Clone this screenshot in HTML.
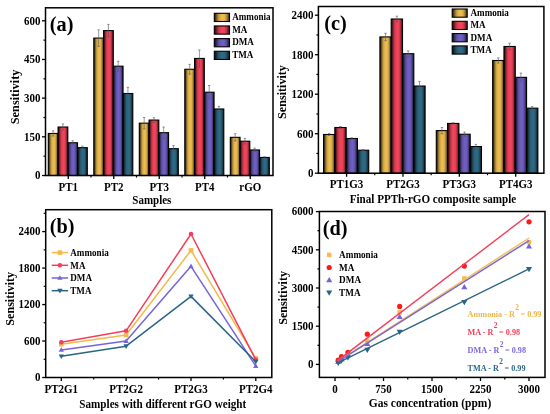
<!DOCTYPE html>
<html><head><meta charset="utf-8"><style>
html,body{margin:0;padding:0;background:#fff;}
svg{display:block;filter:blur(0.45px);font-family:"Liberation Serif", serif;font-weight:bold;}
</style></head><body>
<svg width="550" height="414" viewBox="0 0 550 414">
<defs><linearGradient id="g_amm" x1="0" y1="0" x2="1" y2="0"><stop offset="0.0" stop-color="#1D170A"/><stop offset="0.1" stop-color="#4C3D1A"/><stop offset="0.2" stop-color="#947632"/><stop offset="0.3" stop-color="#C69E42"/><stop offset="0.42" stop-color="#E2B44C"/><stop offset="0.55" stop-color="#EEBE50"/><stop offset="0.68" stop-color="#E2B44C"/><stop offset="0.78" stop-color="#C39C42"/><stop offset="0.88" stop-color="#83692C"/><stop offset="1.0" stop-color="#302610"/></linearGradient><linearGradient id="g_ma" x1="0" y1="0" x2="1" y2="0"><stop offset="0.0" stop-color="#1D080B"/><stop offset="0.1" stop-color="#4E161D"/><stop offset="0.2" stop-color="#972A39"/><stop offset="0.3" stop-color="#CB384C"/><stop offset="0.42" stop-color="#E84157"/><stop offset="0.55" stop-color="#F4445C"/><stop offset="0.68" stop-color="#E84157"/><stop offset="0.78" stop-color="#C8384B"/><stop offset="0.88" stop-color="#862533"/><stop offset="1.0" stop-color="#310E12"/></linearGradient><linearGradient id="g_dma" x1="0" y1="0" x2="1" y2="0"><stop offset="0.0" stop-color="#0D0C18"/><stop offset="0.1" stop-color="#241F3F"/><stop offset="0.2" stop-color="#453C7A"/><stop offset="0.3" stop-color="#5D50A3"/><stop offset="0.42" stop-color="#6A5BBA"/><stop offset="0.55" stop-color="#7060C4"/><stop offset="0.68" stop-color="#6A5BBA"/><stop offset="0.78" stop-color="#5C4FA1"/><stop offset="0.88" stop-color="#3E356C"/><stop offset="1.0" stop-color="#161327"/></linearGradient><linearGradient id="g_tma" x1="0" y1="0" x2="1" y2="0"><stop offset="0.0" stop-color="#060D10"/><stop offset="0.1" stop-color="#0F222B"/><stop offset="0.2" stop-color="#1D4252"/><stop offset="0.3" stop-color="#27586E"/><stop offset="0.42" stop-color="#2D657E"/><stop offset="0.55" stop-color="#2F6A85"/><stop offset="0.68" stop-color="#2D657E"/><stop offset="0.78" stop-color="#27576D"/><stop offset="0.88" stop-color="#1A3A49"/><stop offset="1.0" stop-color="#09151B"/></linearGradient></defs>
<rect width="550" height="414" fill="#fff"/>
<rect x="48.3" y="133.47" width="9.75" height="42.03" fill="url(#g_amm)" stroke="#000" stroke-width="1.1" />
<line x1="53.17" y1="136.05" x2="53.17" y2="130.89" stroke="#555" stroke-width="0.6" />
<line x1="51.97" y1="130.89" x2="54.38" y2="130.89" stroke="#555" stroke-width="0.6" />
<line x1="51.97" y1="136.05" x2="54.38" y2="136.05" stroke="#555" stroke-width="0.6" />
<rect x="58.05" y="127.03" width="9.75" height="48.47" fill="url(#g_ma)" stroke="#000" stroke-width="1.1" />
<line x1="62.92" y1="130.12" x2="62.92" y2="123.93" stroke="#555" stroke-width="0.6" />
<line x1="61.72" y1="123.93" x2="64.12" y2="123.93" stroke="#555" stroke-width="0.6" />
<line x1="61.72" y1="130.12" x2="64.12" y2="130.12" stroke="#555" stroke-width="0.6" />
<rect x="67.8" y="142.76" width="9.75" height="32.74" fill="url(#g_dma)" stroke="#000" stroke-width="1.1" />
<line x1="72.67" y1="144.82" x2="72.67" y2="140.69" stroke="#555" stroke-width="0.6" />
<line x1="71.47" y1="140.69" x2="73.88" y2="140.69" stroke="#555" stroke-width="0.6" />
<line x1="71.47" y1="144.82" x2="73.88" y2="144.82" stroke="#555" stroke-width="0.6" />
<rect x="77.55" y="147.65" width="9.75" height="27.85" fill="url(#g_tma)" stroke="#000" stroke-width="1.1" />
<line x1="82.42" y1="149.2" x2="82.42" y2="146.11" stroke="#555" stroke-width="0.6" />
<line x1="81.22" y1="146.11" x2="83.62" y2="146.11" stroke="#555" stroke-width="0.6" />
<line x1="81.22" y1="149.2" x2="83.62" y2="149.2" stroke="#555" stroke-width="0.6" />
<rect x="93.8" y="38.07" width="9.75" height="137.43" fill="url(#g_amm)" stroke="#000" stroke-width="1.1" />
<line x1="98.67" y1="46.33" x2="98.67" y2="29.82" stroke="#555" stroke-width="0.6" />
<line x1="97.47" y1="29.82" x2="99.88" y2="29.82" stroke="#555" stroke-width="0.6" />
<line x1="97.47" y1="46.33" x2="99.88" y2="46.33" stroke="#555" stroke-width="0.6" />
<rect x="103.55" y="30.6" width="9.75" height="144.9" fill="url(#g_ma)" stroke="#000" stroke-width="1.1" />
<line x1="108.42" y1="36.79" x2="108.42" y2="24.41" stroke="#555" stroke-width="0.6" />
<line x1="107.22" y1="24.41" x2="109.62" y2="24.41" stroke="#555" stroke-width="0.6" />
<line x1="107.22" y1="36.79" x2="109.62" y2="36.79" stroke="#555" stroke-width="0.6" />
<rect x="113.3" y="66.18" width="9.75" height="109.32" fill="url(#g_dma)" stroke="#000" stroke-width="1.1" />
<line x1="118.17" y1="71.08" x2="118.17" y2="61.28" stroke="#555" stroke-width="0.6" />
<line x1="116.97" y1="61.28" x2="119.38" y2="61.28" stroke="#555" stroke-width="0.6" />
<line x1="116.97" y1="71.08" x2="119.38" y2="71.08" stroke="#555" stroke-width="0.6" />
<rect x="123.05" y="93.51" width="9.75" height="81.99" fill="url(#g_tma)" stroke="#000" stroke-width="1.1" />
<line x1="127.92" y1="99.7" x2="127.92" y2="87.32" stroke="#555" stroke-width="0.6" />
<line x1="126.72" y1="87.32" x2="129.12" y2="87.32" stroke="#555" stroke-width="0.6" />
<line x1="126.72" y1="99.7" x2="129.12" y2="99.7" stroke="#555" stroke-width="0.6" />
<rect x="139.3" y="123.16" width="9.75" height="52.34" fill="url(#g_amm)" stroke="#000" stroke-width="1.1" />
<line x1="144.18" y1="128.83" x2="144.18" y2="117.49" stroke="#555" stroke-width="0.6" />
<line x1="142.98" y1="117.49" x2="145.38" y2="117.49" stroke="#555" stroke-width="0.6" />
<line x1="142.98" y1="128.83" x2="145.38" y2="128.83" stroke="#555" stroke-width="0.6" />
<rect x="149.05" y="120.07" width="9.75" height="55.43" fill="url(#g_ma)" stroke="#000" stroke-width="1.1" />
<line x1="153.93" y1="122.39" x2="153.93" y2="117.75" stroke="#555" stroke-width="0.6" />
<line x1="152.73" y1="117.75" x2="155.12" y2="117.75" stroke="#555" stroke-width="0.6" />
<line x1="152.73" y1="122.39" x2="155.12" y2="122.39" stroke="#555" stroke-width="0.6" />
<rect x="158.8" y="132.7" width="9.75" height="42.8" fill="url(#g_dma)" stroke="#000" stroke-width="1.1" />
<line x1="163.68" y1="138.37" x2="163.68" y2="127.03" stroke="#555" stroke-width="0.6" />
<line x1="162.48" y1="127.03" x2="164.88" y2="127.03" stroke="#555" stroke-width="0.6" />
<line x1="162.48" y1="138.37" x2="164.88" y2="138.37" stroke="#555" stroke-width="0.6" />
<rect x="168.55" y="148.69" width="9.75" height="26.81" fill="url(#g_tma)" stroke="#000" stroke-width="1.1" />
<line x1="173.43" y1="151.78" x2="173.43" y2="145.59" stroke="#555" stroke-width="0.6" />
<line x1="172.23" y1="145.59" x2="174.62" y2="145.59" stroke="#555" stroke-width="0.6" />
<line x1="172.23" y1="151.78" x2="174.62" y2="151.78" stroke="#555" stroke-width="0.6" />
<rect x="184.8" y="69.27" width="9.75" height="106.23" fill="url(#g_amm)" stroke="#000" stroke-width="1.1" />
<line x1="189.68" y1="74.17" x2="189.68" y2="64.37" stroke="#555" stroke-width="0.6" />
<line x1="188.48" y1="64.37" x2="190.88" y2="64.37" stroke="#555" stroke-width="0.6" />
<line x1="188.48" y1="74.17" x2="190.88" y2="74.17" stroke="#555" stroke-width="0.6" />
<rect x="194.55" y="58.44" width="9.75" height="117.06" fill="url(#g_ma)" stroke="#000" stroke-width="1.1" />
<line x1="199.43" y1="66.95" x2="199.43" y2="49.94" stroke="#555" stroke-width="0.6" />
<line x1="198.23" y1="49.94" x2="200.62" y2="49.94" stroke="#555" stroke-width="0.6" />
<line x1="198.23" y1="66.95" x2="200.62" y2="66.95" stroke="#555" stroke-width="0.6" />
<rect x="204.3" y="92.22" width="9.75" height="83.28" fill="url(#g_dma)" stroke="#000" stroke-width="1.1" />
<line x1="209.18" y1="98.92" x2="209.18" y2="85.52" stroke="#555" stroke-width="0.6" />
<line x1="207.98" y1="85.52" x2="210.38" y2="85.52" stroke="#555" stroke-width="0.6" />
<line x1="207.98" y1="98.92" x2="210.38" y2="98.92" stroke="#555" stroke-width="0.6" />
<rect x="214.05" y="108.98" width="9.75" height="66.52" fill="url(#g_tma)" stroke="#000" stroke-width="1.1" />
<line x1="218.93" y1="111.56" x2="218.93" y2="106.4" stroke="#555" stroke-width="0.6" />
<line x1="217.73" y1="106.4" x2="220.12" y2="106.4" stroke="#555" stroke-width="0.6" />
<line x1="217.73" y1="111.56" x2="220.12" y2="111.56" stroke="#555" stroke-width="0.6" />
<rect x="230.3" y="137.34" width="9.75" height="38.16" fill="url(#g_amm)" stroke="#000" stroke-width="1.1" />
<line x1="235.18" y1="140.95" x2="235.18" y2="133.73" stroke="#555" stroke-width="0.6" />
<line x1="233.98" y1="133.73" x2="236.38" y2="133.73" stroke="#555" stroke-width="0.6" />
<line x1="233.98" y1="140.95" x2="236.38" y2="140.95" stroke="#555" stroke-width="0.6" />
<rect x="240.05" y="141.21" width="9.75" height="34.29" fill="url(#g_ma)" stroke="#000" stroke-width="1.1" />
<line x1="244.93" y1="144.04" x2="244.93" y2="138.37" stroke="#555" stroke-width="0.6" />
<line x1="243.73" y1="138.37" x2="246.12" y2="138.37" stroke="#555" stroke-width="0.6" />
<line x1="243.73" y1="144.04" x2="246.12" y2="144.04" stroke="#555" stroke-width="0.6" />
<rect x="249.8" y="149.97" width="9.75" height="25.53" fill="url(#g_dma)" stroke="#000" stroke-width="1.1" />
<line x1="254.68" y1="151.78" x2="254.68" y2="148.17" stroke="#555" stroke-width="0.6" />
<line x1="253.48" y1="148.17" x2="255.88" y2="148.17" stroke="#555" stroke-width="0.6" />
<line x1="253.48" y1="151.78" x2="255.88" y2="151.78" stroke="#555" stroke-width="0.6" />
<rect x="259.55" y="157.45" width="9.75" height="18.05" fill="url(#g_tma)" stroke="#000" stroke-width="1.1" />
<line x1="264.43" y1="158.23" x2="264.43" y2="156.68" stroke="#555" stroke-width="0.6" />
<line x1="263.23" y1="156.68" x2="265.62" y2="156.68" stroke="#555" stroke-width="0.6" />
<line x1="263.23" y1="158.23" x2="265.62" y2="158.23" stroke="#555" stroke-width="0.6" />
<rect x="45.5" y="7.8" width="227.5" height="167.7" fill="none" stroke="#000" stroke-width="1.5" />
<line x1="42" y1="175.5" x2="45.5" y2="175.5" stroke="#000" stroke-width="1.3" />
<text transform="translate(40.5,179.3) scale(1,1.12)" font-size="11" text-anchor="end" fill="#000">0</text>
<line x1="42" y1="136.82" x2="45.5" y2="136.82" stroke="#000" stroke-width="1.3" />
<text transform="translate(40.5,140.62) scale(1,1.12)" font-size="11" text-anchor="end" fill="#000">150</text>
<line x1="42" y1="98.15" x2="45.5" y2="98.15" stroke="#000" stroke-width="1.3" />
<text transform="translate(40.5,101.95) scale(1,1.12)" font-size="11" text-anchor="end" fill="#000">300</text>
<line x1="42" y1="59.48" x2="45.5" y2="59.48" stroke="#000" stroke-width="1.3" />
<text transform="translate(40.5,63.28) scale(1,1.12)" font-size="11" text-anchor="end" fill="#000">450</text>
<line x1="42" y1="20.8" x2="45.5" y2="20.8" stroke="#000" stroke-width="1.3" />
<text transform="translate(40.5,24.6) scale(1,1.12)" font-size="11" text-anchor="end" fill="#000">600</text>
<line x1="43.5" y1="156.16" x2="45.5" y2="156.16" stroke="#000" stroke-width="1.2" />
<line x1="43.5" y1="117.49" x2="45.5" y2="117.49" stroke="#000" stroke-width="1.2" />
<line x1="43.5" y1="78.81" x2="45.5" y2="78.81" stroke="#000" stroke-width="1.2" />
<line x1="43.5" y1="40.14" x2="45.5" y2="40.14" stroke="#000" stroke-width="1.2" />
<line x1="68.25" y1="175.5" x2="68.25" y2="179.1" stroke="#000" stroke-width="1.3" />
<text transform="translate(68.25,191.2) scale(1,1.12)" font-size="11" text-anchor="middle" fill="#000">PT1</text>
<line x1="113.75" y1="175.5" x2="113.75" y2="179.1" stroke="#000" stroke-width="1.3" />
<text transform="translate(113.75,191.2) scale(1,1.12)" font-size="11" text-anchor="middle" fill="#000">PT2</text>
<line x1="159.25" y1="175.5" x2="159.25" y2="179.1" stroke="#000" stroke-width="1.3" />
<text transform="translate(159.25,191.2) scale(1,1.12)" font-size="11" text-anchor="middle" fill="#000">PT3</text>
<line x1="204.75" y1="175.5" x2="204.75" y2="179.1" stroke="#000" stroke-width="1.3" />
<text transform="translate(204.75,191.2) scale(1,1.12)" font-size="11" text-anchor="middle" fill="#000">PT4</text>
<line x1="250.25" y1="175.5" x2="250.25" y2="179.1" stroke="#000" stroke-width="1.3" />
<text transform="translate(250.25,191.2) scale(1,1.12)" font-size="11" text-anchor="middle" fill="#000">rGO</text>
<line x1="91" y1="175.5" x2="91" y2="177.5" stroke="#000" stroke-width="1.2" />
<line x1="136.5" y1="175.5" x2="136.5" y2="177.5" stroke="#000" stroke-width="1.2" />
<line x1="182" y1="175.5" x2="182" y2="177.5" stroke="#000" stroke-width="1.2" />
<line x1="227.5" y1="175.5" x2="227.5" y2="177.5" stroke="#000" stroke-width="1.2" />
<text transform="translate(49.8,30.7) scale(1,1.0)" font-size="20.3" text-anchor="start" fill="#000">(a)</text>
<rect x="214.3" y="13.3" width="15.2" height="8.2" fill="url(#g_amm)" stroke="#000" stroke-width="1.1" />
<text transform="translate(232.2,19.9) scale(1,1.12)" font-size="9.1" text-anchor="start" fill="#000">Ammonia</text>
<rect x="214.3" y="25.95" width="15.2" height="8.2" fill="url(#g_ma)" stroke="#000" stroke-width="1.1" />
<text transform="translate(232.2,32.55) scale(1,1.12)" font-size="9.1" text-anchor="start" fill="#000">MA</text>
<rect x="214.3" y="38.6" width="15.2" height="8.2" fill="url(#g_dma)" stroke="#000" stroke-width="1.1" />
<text transform="translate(232.2,45.2) scale(1,1.12)" font-size="9.1" text-anchor="start" fill="#000">DMA</text>
<rect x="214.3" y="51.25" width="15.2" height="8.2" fill="url(#g_tma)" stroke="#000" stroke-width="1.1" />
<text transform="translate(232.2,57.85) scale(1,1.12)" font-size="9.1" text-anchor="start" fill="#000">TMA</text>
<text transform="translate(151.8,203.6) scale(1,1.12)" font-size="11" text-anchor="middle" fill="#000">Samples</text>
<text x="0" y="0" font-size="12.3" text-anchor="middle" fill="#000" transform="translate(19.0,96.9) rotate(-90)">Sensitivity</text>
<rect x="323.54" y="134.49" width="11.3" height="38.71" fill="url(#g_amm)" stroke="#000" stroke-width="1.1" />
<line x1="329.19" y1="135.48" x2="329.19" y2="133.5" stroke="#555" stroke-width="0.6" />
<line x1="327.99" y1="133.5" x2="330.39" y2="133.5" stroke="#555" stroke-width="0.6" />
<line x1="327.99" y1="135.48" x2="330.39" y2="135.48" stroke="#555" stroke-width="0.6" />
<rect x="334.84" y="127.51" width="11.3" height="45.69" fill="url(#g_ma)" stroke="#000" stroke-width="1.1" />
<line x1="340.49" y1="128.5" x2="340.49" y2="126.52" stroke="#555" stroke-width="0.6" />
<line x1="339.29" y1="126.52" x2="341.69" y2="126.52" stroke="#555" stroke-width="0.6" />
<line x1="339.29" y1="128.5" x2="341.69" y2="128.5" stroke="#555" stroke-width="0.6" />
<rect x="346.14" y="138.51" width="11.3" height="34.69" fill="url(#g_dma)" stroke="#000" stroke-width="1.1" />
<line x1="351.79" y1="139.3" x2="351.79" y2="137.72" stroke="#555" stroke-width="0.6" />
<line x1="350.59" y1="137.72" x2="352.99" y2="137.72" stroke="#555" stroke-width="0.6" />
<line x1="350.59" y1="139.3" x2="352.99" y2="139.3" stroke="#555" stroke-width="0.6" />
<rect x="357.44" y="150.22" width="11.3" height="22.98" fill="url(#g_tma)" stroke="#000" stroke-width="1.1" />
<line x1="363.09" y1="150.88" x2="363.09" y2="149.57" stroke="#555" stroke-width="0.6" />
<line x1="361.89" y1="149.57" x2="364.29" y2="149.57" stroke="#555" stroke-width="0.6" />
<line x1="361.89" y1="150.88" x2="364.29" y2="150.88" stroke="#555" stroke-width="0.6" />
<rect x="379.91" y="36.93" width="11.3" height="136.27" fill="url(#g_amm)" stroke="#000" stroke-width="1.1" />
<line x1="385.56" y1="40.61" x2="385.56" y2="33.24" stroke="#555" stroke-width="0.6" />
<line x1="384.36" y1="33.24" x2="386.76" y2="33.24" stroke="#555" stroke-width="0.6" />
<line x1="384.36" y1="40.61" x2="386.76" y2="40.61" stroke="#555" stroke-width="0.6" />
<rect x="391.21" y="19.02" width="11.3" height="154.18" fill="url(#g_ma)" stroke="#000" stroke-width="1.1" />
<line x1="396.86" y1="21.85" x2="396.86" y2="16.19" stroke="#555" stroke-width="0.6" />
<line x1="395.66" y1="16.19" x2="398.06" y2="16.19" stroke="#555" stroke-width="0.6" />
<line x1="395.66" y1="21.85" x2="398.06" y2="21.85" stroke="#555" stroke-width="0.6" />
<rect x="402.51" y="53.71" width="11.3" height="119.49" fill="url(#g_dma)" stroke="#000" stroke-width="1.1" />
<line x1="408.16" y1="56.54" x2="408.16" y2="50.88" stroke="#555" stroke-width="0.6" />
<line x1="406.96" y1="50.88" x2="409.36" y2="50.88" stroke="#555" stroke-width="0.6" />
<line x1="406.96" y1="56.54" x2="409.36" y2="56.54" stroke="#555" stroke-width="0.6" />
<rect x="413.81" y="86.04" width="11.3" height="87.16" fill="url(#g_tma)" stroke="#000" stroke-width="1.1" />
<line x1="419.46" y1="90.71" x2="419.46" y2="81.36" stroke="#555" stroke-width="0.6" />
<line x1="418.26" y1="81.36" x2="420.66" y2="81.36" stroke="#555" stroke-width="0.6" />
<line x1="418.26" y1="90.71" x2="420.66" y2="90.71" stroke="#555" stroke-width="0.6" />
<rect x="436.29" y="130.61" width="11.3" height="42.59" fill="url(#g_amm)" stroke="#000" stroke-width="1.1" />
<line x1="441.94" y1="133.7" x2="441.94" y2="127.51" stroke="#555" stroke-width="0.6" />
<line x1="440.74" y1="127.51" x2="443.14" y2="127.51" stroke="#555" stroke-width="0.6" />
<line x1="440.74" y1="133.7" x2="443.14" y2="133.7" stroke="#555" stroke-width="0.6" />
<rect x="447.59" y="123.43" width="11.3" height="49.77" fill="url(#g_ma)" stroke="#000" stroke-width="1.1" />
<line x1="453.24" y1="124.15" x2="453.24" y2="122.71" stroke="#555" stroke-width="0.6" />
<line x1="452.04" y1="122.71" x2="454.44" y2="122.71" stroke="#555" stroke-width="0.6" />
<line x1="452.04" y1="124.15" x2="454.44" y2="124.15" stroke="#555" stroke-width="0.6" />
<rect x="458.89" y="134.23" width="11.3" height="38.97" fill="url(#g_dma)" stroke="#000" stroke-width="1.1" />
<line x1="464.54" y1="136.4" x2="464.54" y2="132.05" stroke="#555" stroke-width="0.6" />
<line x1="463.34" y1="132.05" x2="465.74" y2="132.05" stroke="#555" stroke-width="0.6" />
<line x1="463.34" y1="136.4" x2="465.74" y2="136.4" stroke="#555" stroke-width="0.6" />
<rect x="470.19" y="146.54" width="11.3" height="26.66" fill="url(#g_tma)" stroke="#000" stroke-width="1.1" />
<line x1="475.84" y1="148.71" x2="475.84" y2="144.36" stroke="#555" stroke-width="0.6" />
<line x1="474.64" y1="144.36" x2="477.04" y2="144.36" stroke="#555" stroke-width="0.6" />
<line x1="474.64" y1="148.71" x2="477.04" y2="148.71" stroke="#555" stroke-width="0.6" />
<rect x="492.66" y="60.49" width="11.3" height="112.71" fill="url(#g_amm)" stroke="#000" stroke-width="1.1" />
<line x1="498.31" y1="63.13" x2="498.31" y2="57.86" stroke="#555" stroke-width="0.6" />
<line x1="497.11" y1="57.86" x2="499.51" y2="57.86" stroke="#555" stroke-width="0.6" />
<line x1="497.11" y1="63.13" x2="499.51" y2="63.13" stroke="#555" stroke-width="0.6" />
<rect x="503.96" y="46.47" width="11.3" height="126.73" fill="url(#g_ma)" stroke="#000" stroke-width="1.1" />
<line x1="509.61" y1="49.76" x2="509.61" y2="43.18" stroke="#555" stroke-width="0.6" />
<line x1="508.41" y1="43.18" x2="510.81" y2="43.18" stroke="#555" stroke-width="0.6" />
<line x1="508.41" y1="49.76" x2="510.81" y2="49.76" stroke="#555" stroke-width="0.6" />
<rect x="515.26" y="77.35" width="11.3" height="95.85" fill="url(#g_dma)" stroke="#000" stroke-width="1.1" />
<line x1="520.91" y1="81.63" x2="520.91" y2="73.07" stroke="#555" stroke-width="0.6" />
<line x1="519.71" y1="73.07" x2="522.11" y2="73.07" stroke="#555" stroke-width="0.6" />
<line x1="519.71" y1="81.63" x2="522.11" y2="81.63" stroke="#555" stroke-width="0.6" />
<rect x="526.56" y="108.16" width="11.3" height="65.04" fill="url(#g_tma)" stroke="#000" stroke-width="1.1" />
<line x1="532.21" y1="109.74" x2="532.21" y2="106.58" stroke="#555" stroke-width="0.6" />
<line x1="531.01" y1="106.58" x2="533.41" y2="106.58" stroke="#555" stroke-width="0.6" />
<line x1="531.01" y1="109.74" x2="533.41" y2="109.74" stroke="#555" stroke-width="0.6" />
<rect x="318.4" y="6.5" width="225.5" height="166.7" fill="none" stroke="#000" stroke-width="1.5" />
<line x1="314.9" y1="173.2" x2="318.4" y2="173.2" stroke="#000" stroke-width="1.3" />
<text transform="translate(313.4,177) scale(1,1.12)" font-size="11" text-anchor="end" fill="#000">0</text>
<line x1="314.9" y1="133.7" x2="318.4" y2="133.7" stroke="#000" stroke-width="1.3" />
<text transform="translate(313.4,137.5) scale(1,1.12)" font-size="11" text-anchor="end" fill="#000">600</text>
<line x1="314.9" y1="94.2" x2="318.4" y2="94.2" stroke="#000" stroke-width="1.3" />
<text transform="translate(313.4,98) scale(1,1.12)" font-size="11" text-anchor="end" fill="#000">1200</text>
<line x1="314.9" y1="54.7" x2="318.4" y2="54.7" stroke="#000" stroke-width="1.3" />
<text transform="translate(313.4,58.5) scale(1,1.12)" font-size="11" text-anchor="end" fill="#000">1800</text>
<line x1="314.9" y1="15.2" x2="318.4" y2="15.2" stroke="#000" stroke-width="1.3" />
<text transform="translate(313.4,19) scale(1,1.12)" font-size="11" text-anchor="end" fill="#000">2400</text>
<line x1="316.4" y1="153.45" x2="318.4" y2="153.45" stroke="#000" stroke-width="1.2" />
<line x1="316.4" y1="113.95" x2="318.4" y2="113.95" stroke="#000" stroke-width="1.2" />
<line x1="316.4" y1="74.45" x2="318.4" y2="74.45" stroke="#000" stroke-width="1.2" />
<line x1="316.4" y1="34.95" x2="318.4" y2="34.95" stroke="#000" stroke-width="1.2" />
<line x1="346.59" y1="173.2" x2="346.59" y2="176.8" stroke="#000" stroke-width="1.3" />
<text transform="translate(346.59,188.4) scale(1,1.12)" font-size="11" text-anchor="middle" fill="#000">PT1G3</text>
<line x1="402.96" y1="173.2" x2="402.96" y2="176.8" stroke="#000" stroke-width="1.3" />
<text transform="translate(402.96,188.4) scale(1,1.12)" font-size="11" text-anchor="middle" fill="#000">PT2G3</text>
<line x1="459.34" y1="173.2" x2="459.34" y2="176.8" stroke="#000" stroke-width="1.3" />
<text transform="translate(459.34,188.4) scale(1,1.12)" font-size="11" text-anchor="middle" fill="#000">PT3G3</text>
<line x1="515.71" y1="173.2" x2="515.71" y2="176.8" stroke="#000" stroke-width="1.3" />
<text transform="translate(515.71,188.4) scale(1,1.12)" font-size="11" text-anchor="middle" fill="#000">PT4G3</text>
<line x1="374.77" y1="173.2" x2="374.77" y2="175.2" stroke="#000" stroke-width="1.2" />
<line x1="431.15" y1="173.2" x2="431.15" y2="175.2" stroke="#000" stroke-width="1.2" />
<line x1="487.52" y1="173.2" x2="487.52" y2="175.2" stroke="#000" stroke-width="1.2" />
<text transform="translate(324.2,29.6) scale(1,1.0)" font-size="20.3" text-anchor="start" fill="#000">(c)</text>
<rect x="452.2" y="9" width="15" height="8.2" fill="url(#g_amm)" stroke="#000" stroke-width="1.1" />
<text transform="translate(470.5,15.9) scale(1,1.06)" font-size="9.1" text-anchor="start" fill="#000">Ammonia</text>
<rect x="452.2" y="21.3" width="15" height="8.2" fill="url(#g_ma)" stroke="#000" stroke-width="1.1" />
<text transform="translate(470.5,28.2) scale(1,1.06)" font-size="9.1" text-anchor="start" fill="#000">MA</text>
<rect x="452.2" y="33.6" width="15" height="8.2" fill="url(#g_dma)" stroke="#000" stroke-width="1.1" />
<text transform="translate(470.5,40.5) scale(1,1.06)" font-size="9.1" text-anchor="start" fill="#000">DMA</text>
<rect x="452.2" y="45.9" width="15" height="8.2" fill="url(#g_tma)" stroke="#000" stroke-width="1.1" />
<text transform="translate(470.5,52.8) scale(1,1.06)" font-size="9.1" text-anchor="start" fill="#000">TMA</text>
<text transform="translate(433,203.2) scale(1,1.12)" font-size="11.1" text-anchor="middle" fill="#000">Final PPTh-rGO composite sample</text>
<text x="0" y="0" font-size="12.1" text-anchor="middle" fill="#000" transform="translate(286.4,92) rotate(-90)">Sensitivity</text>
<polyline points="61.3,344.19 126.1,334.95 191,250.45 255.8,358.41" fill="none" stroke="#F4B94A" stroke-width="1.5" stroke-linejoin="round"/>
<rect x="59" y="341.89" width="4.6" height="4.6" fill="#F4B94A"/>
<rect x="123.8" y="332.65" width="4.6" height="4.6" fill="#F4B94A"/>
<rect x="188.7" y="248.15" width="4.6" height="4.6" fill="#F4B94A"/>
<rect x="253.5" y="356.11" width="4.6" height="4.6" fill="#F4B94A"/>
<polyline points="61.3,342.18 126.1,330.81 191,234.03 255.8,359.81" fill="none" stroke="#F43E5A" stroke-width="1.5" stroke-linejoin="round"/>
<circle cx="61.3" cy="342.18" r="2.3" fill="#F43E5A"/>
<circle cx="126.1" cy="330.81" r="2.3" fill="#F43E5A"/>
<circle cx="191" cy="234.03" r="2.3" fill="#F43E5A"/>
<circle cx="255.8" cy="359.81" r="2.3" fill="#F43E5A"/>
<polyline points="61.3,350.02 126.1,341.09 191,266.31 255.8,366.07" fill="none" stroke="#7565DA" stroke-width="1.5" stroke-linejoin="round"/>
<polygon points="61.3,347.31 58.63,351.86 63.97,351.86" fill="#7565DA"/>
<polygon points="126.1,338.38 123.43,342.92 128.77,342.92" fill="#7565DA"/>
<polygon points="191,263.6 188.33,268.15 193.67,268.15" fill="#7565DA"/>
<polygon points="255.8,363.36 253.13,367.91 258.47,367.91" fill="#7565DA"/>
<polyline points="61.3,356.22 126.1,346.19 191,296.4 255.8,361.69" fill="none" stroke="#2A6585" stroke-width="1.5" stroke-linejoin="round"/>
<polygon points="61.3,358.93 58.63,354.39 63.97,354.39" fill="#2A6585"/>
<polygon points="126.1,348.9 123.43,344.36 128.77,344.36" fill="#2A6585"/>
<polygon points="191,299.11 188.33,294.57 193.67,294.57" fill="#2A6585"/>
<polygon points="255.8,364.4 253.13,359.86 258.47,359.86" fill="#2A6585"/>
<rect x="45.7" y="209.7" width="226.1" height="167.8" fill="none" stroke="#000" stroke-width="1.5" />
<line x1="42.2" y1="377.5" x2="45.7" y2="377.5" stroke="#000" stroke-width="1.3" />
<text transform="translate(40.5,381.3) scale(1,1.12)" font-size="11" text-anchor="end" fill="#000">0</text>
<line x1="42.2" y1="341.02" x2="45.7" y2="341.02" stroke="#000" stroke-width="1.3" />
<text transform="translate(40.5,344.82) scale(1,1.12)" font-size="11" text-anchor="end" fill="#000">600</text>
<line x1="42.2" y1="304.55" x2="45.7" y2="304.55" stroke="#000" stroke-width="1.3" />
<text transform="translate(40.5,308.35) scale(1,1.12)" font-size="11" text-anchor="end" fill="#000">1200</text>
<line x1="42.2" y1="268.07" x2="45.7" y2="268.07" stroke="#000" stroke-width="1.3" />
<text transform="translate(40.5,271.88) scale(1,1.12)" font-size="11" text-anchor="end" fill="#000">1800</text>
<line x1="42.2" y1="231.6" x2="45.7" y2="231.6" stroke="#000" stroke-width="1.3" />
<text transform="translate(40.5,235.4) scale(1,1.12)" font-size="11" text-anchor="end" fill="#000">2400</text>
<line x1="43.7" y1="359.26" x2="45.7" y2="359.26" stroke="#000" stroke-width="1.2" />
<line x1="43.7" y1="322.79" x2="45.7" y2="322.79" stroke="#000" stroke-width="1.2" />
<line x1="43.7" y1="286.31" x2="45.7" y2="286.31" stroke="#000" stroke-width="1.2" />
<line x1="43.7" y1="249.84" x2="45.7" y2="249.84" stroke="#000" stroke-width="1.2" />
<line x1="43.7" y1="213.36" x2="45.7" y2="213.36" stroke="#000" stroke-width="1.2" />
<line x1="61.3" y1="377.5" x2="61.3" y2="381.1" stroke="#000" stroke-width="1.3" />
<text transform="translate(61.3,392.8) scale(1,1.12)" font-size="11" text-anchor="middle" fill="#000">PT2G1</text>
<line x1="126.1" y1="377.5" x2="126.1" y2="381.1" stroke="#000" stroke-width="1.3" />
<text transform="translate(126.1,392.8) scale(1,1.12)" font-size="11" text-anchor="middle" fill="#000">PT2G2</text>
<line x1="191" y1="377.5" x2="191" y2="381.1" stroke="#000" stroke-width="1.3" />
<text transform="translate(191,392.8) scale(1,1.12)" font-size="11" text-anchor="middle" fill="#000">PT2G3</text>
<line x1="255.8" y1="377.5" x2="255.8" y2="381.1" stroke="#000" stroke-width="1.3" />
<text transform="translate(255.8,392.8) scale(1,1.12)" font-size="11" text-anchor="middle" fill="#000">PT2G4</text>
<line x1="93.7" y1="377.5" x2="93.7" y2="379.5" stroke="#000" stroke-width="1.2" />
<line x1="158.55" y1="377.5" x2="158.55" y2="379.5" stroke="#000" stroke-width="1.2" />
<line x1="223.4" y1="377.5" x2="223.4" y2="379.5" stroke="#000" stroke-width="1.2" />
<text transform="translate(49.8,233.3) scale(1,1.0)" font-size="20.3" text-anchor="start" fill="#000">(b)</text>
<line x1="51.7" y1="252.6" x2="68.1" y2="252.6" stroke="#F4B94A" stroke-width="1.5" />
<rect x="57.6" y="250.3" width="4.6" height="4.6" fill="#F4B94A"/>
<text transform="translate(70.3,255.8) scale(1,1.12)" font-size="9.1" text-anchor="start" fill="#000">Ammonia</text>
<line x1="51.7" y1="265.3" x2="68.1" y2="265.3" stroke="#F43E5A" stroke-width="1.5" />
<circle cx="59.9" cy="265.3" r="2.3" fill="#F43E5A"/>
<text transform="translate(70.3,268.5) scale(1,1.12)" font-size="9.1" text-anchor="start" fill="#000">MA</text>
<line x1="51.7" y1="278" x2="68.1" y2="278" stroke="#7565DA" stroke-width="1.5" />
<polygon points="59.9,275.29 57.23,279.84 62.57,279.84" fill="#7565DA"/>
<text transform="translate(70.3,281.2) scale(1,1.12)" font-size="9.1" text-anchor="start" fill="#000">DMA</text>
<line x1="51.7" y1="290.7" x2="68.1" y2="290.7" stroke="#2A6585" stroke-width="1.5" />
<polygon points="59.9,293.41 57.23,288.86 62.57,288.86" fill="#2A6585"/>
<text transform="translate(70.3,293.9) scale(1,1.12)" font-size="9.1" text-anchor="start" fill="#000">TMA</text>
<text transform="translate(162.75,408) scale(1,1.12)" font-size="11.15" text-anchor="middle" fill="#000">Samples with different rGO weight</text>
<text x="0" y="0" font-size="12.1" text-anchor="middle" fill="#000" transform="translate(14.4,298.8) rotate(-90)">Sensitivity</text>
<rect x="335.98" y="359.09" width="4.5" height="4.5" fill="#F6BC52"/>
<rect x="339.22" y="356.29" width="4.5" height="4.5" fill="#F6BC52"/>
<rect x="345.68" y="351.96" width="4.5" height="4.5" fill="#F6BC52"/>
<rect x="365.08" y="338.54" width="4.5" height="4.5" fill="#F6BC52"/>
<rect x="397.42" y="310.15" width="4.5" height="4.5" fill="#F6BC52"/>
<rect x="462.09" y="276.17" width="4.5" height="4.5" fill="#F6BC52"/>
<rect x="526.76" y="239.91" width="4.5" height="4.5" fill="#F6BC52"/>
<circle cx="338.23" cy="359.99" r="2.6" fill="#FF1A1A"/>
<circle cx="341.47" cy="356.71" r="2.6" fill="#FF1A1A"/>
<circle cx="347.93" cy="352.41" r="2.6" fill="#FF1A1A"/>
<circle cx="367.33" cy="334.22" r="2.6" fill="#FF1A1A"/>
<circle cx="399.67" cy="306.41" r="2.6" fill="#FF1A1A"/>
<circle cx="464.34" cy="266.12" r="2.6" fill="#FF1A1A"/>
<circle cx="529.01" cy="221.86" r="2.6" fill="#FF1A1A"/>
<polygon points="338.23,358.73 335.16,363.97 341.31,363.97" fill="#7565DA"/>
<polygon points="341.47,356.18 338.39,361.42 344.54,361.42" fill="#7565DA"/>
<polygon points="347.93,351.88 344.86,357.12 351.01,357.12" fill="#7565DA"/>
<polygon points="367.33,340.75 364.26,345.99 370.41,345.99" fill="#7565DA"/>
<polygon points="399.67,313.78 396.6,319.02 402.74,319.02" fill="#7565DA"/>
<polygon points="464.34,283.99 461.27,289.22 467.41,289.22" fill="#7565DA"/>
<polygon points="529.01,243.27 525.94,248.5 532.08,248.5" fill="#7565DA"/>
<polygon points="338.23,365.99 335.16,360.76 341.31,360.76" fill="#2A6585"/>
<polygon points="341.47,363.7 338.39,358.47 344.54,358.47" fill="#2A6585"/>
<polygon points="347.93,360.62 344.86,355.38 351.01,355.38" fill="#2A6585"/>
<polygon points="367.33,352.98 364.26,347.74 370.41,347.74" fill="#2A6585"/>
<polygon points="399.67,334.92 396.6,329.69 402.74,329.69" fill="#2A6585"/>
<polygon points="464.34,305.33 461.27,300.1 467.41,300.1" fill="#2A6585"/>
<polygon points="529.01,272.3 525.94,267.07 532.08,267.07" fill="#2A6585"/>
<line x1="337.91" y1="361.38" x2="529.01" y2="238.03" stroke="#F4BE55" stroke-width="1.4" />
<line x1="337.91" y1="361.69" x2="529.01" y2="240.61" stroke="#7565DA" stroke-width="1.4" />
<line x1="337.91" y1="362.97" x2="529.01" y2="268.9" stroke="#2A6585" stroke-width="1.4" />
<line x1="337.91" y1="360.4" x2="529.01" y2="214.63" stroke="#F43E5A" stroke-width="1.4" />
<rect x="319.4" y="211.5" width="225.6" height="165.9" fill="none" stroke="#000" stroke-width="1.5" />
<line x1="315.9" y1="364.4" x2="319.4" y2="364.4" stroke="#000" stroke-width="1.3" />
<text transform="translate(313.6,368.2) scale(1,1.12)" font-size="11" text-anchor="end" fill="#000">0</text>
<line x1="315.9" y1="326.2" x2="319.4" y2="326.2" stroke="#000" stroke-width="1.3" />
<text transform="translate(313.6,330) scale(1,1.12)" font-size="11" text-anchor="end" fill="#000">1500</text>
<line x1="315.9" y1="288" x2="319.4" y2="288" stroke="#000" stroke-width="1.3" />
<text transform="translate(313.6,291.8) scale(1,1.12)" font-size="11" text-anchor="end" fill="#000">3000</text>
<line x1="315.9" y1="249.8" x2="319.4" y2="249.8" stroke="#000" stroke-width="1.3" />
<text transform="translate(313.6,253.6) scale(1,1.12)" font-size="11" text-anchor="end" fill="#000">4500</text>
<line x1="315.9" y1="211.6" x2="319.4" y2="211.6" stroke="#000" stroke-width="1.3" />
<text transform="translate(313.6,215.4) scale(1,1.12)" font-size="11" text-anchor="end" fill="#000">6000</text>
<line x1="317.4" y1="345.3" x2="319.4" y2="345.3" stroke="#000" stroke-width="1.2" />
<line x1="317.4" y1="307.1" x2="319.4" y2="307.1" stroke="#000" stroke-width="1.2" />
<line x1="317.4" y1="268.9" x2="319.4" y2="268.9" stroke="#000" stroke-width="1.2" />
<line x1="317.4" y1="230.7" x2="319.4" y2="230.7" stroke="#000" stroke-width="1.2" />
<line x1="335" y1="377.4" x2="335" y2="381" stroke="#000" stroke-width="1.3" />
<text transform="translate(335,392.8) scale(1,1.12)" font-size="11" text-anchor="middle" fill="#000">0</text>
<line x1="383.5" y1="377.4" x2="383.5" y2="381" stroke="#000" stroke-width="1.3" />
<text transform="translate(383.5,392.8) scale(1,1.12)" font-size="11" text-anchor="middle" fill="#000">750</text>
<line x1="432" y1="377.4" x2="432" y2="381" stroke="#000" stroke-width="1.3" />
<text transform="translate(432,392.8) scale(1,1.12)" font-size="11" text-anchor="middle" fill="#000">1500</text>
<line x1="480.51" y1="377.4" x2="480.51" y2="381" stroke="#000" stroke-width="1.3" />
<text transform="translate(480.51,392.8) scale(1,1.12)" font-size="11" text-anchor="middle" fill="#000">2250</text>
<line x1="529.01" y1="377.4" x2="529.01" y2="381" stroke="#000" stroke-width="1.3" />
<text transform="translate(529.01,392.8) scale(1,1.12)" font-size="11" text-anchor="middle" fill="#000">3000</text>
<line x1="359.25" y1="377.4" x2="359.25" y2="379.4" stroke="#000" stroke-width="1.2" />
<line x1="407.75" y1="377.4" x2="407.75" y2="379.4" stroke="#000" stroke-width="1.2" />
<line x1="456.26" y1="377.4" x2="456.26" y2="379.4" stroke="#000" stroke-width="1.2" />
<line x1="504.76" y1="377.4" x2="504.76" y2="379.4" stroke="#000" stroke-width="1.2" />
<text transform="translate(322.8,234.6) scale(1,1.0)" font-size="20.3" text-anchor="start" fill="#000">(d)</text>
<rect x="326.95" y="252.65" width="4.5" height="4.5" fill="#F6BC52"/>
<text transform="translate(339.1,258) scale(1,1.12)" font-size="9.2" text-anchor="start" fill="#000">Ammonia</text>
<circle cx="329.2" cy="267.5" r="2.6" fill="#FF1A1A"/>
<text transform="translate(339.1,270.6) scale(1,1.12)" font-size="9.2" text-anchor="start" fill="#000">MA</text>
<polygon points="329.2,276.98 326.13,282.21 332.27,282.21" fill="#7565DA"/>
<text transform="translate(339.1,283.2) scale(1,1.12)" font-size="9.2" text-anchor="start" fill="#000">DMA</text>
<polygon points="329.2,295.82 326.13,290.59 332.27,290.59" fill="#2A6585"/>
<text transform="translate(339.1,295.8) scale(1,1.12)" font-size="9.2" text-anchor="start" fill="#000">TMA</text>
<text transform="translate(430,407) scale(1,1.12)" font-size="11.5" text-anchor="middle" fill="#000">Gas concentration (ppm)</text>
<text x="0" y="0" font-size="12.1" text-anchor="middle" fill="#000" transform="translate(286.7,297.9) rotate(-90)">Sensitivity</text>
<text transform="translate(467.6,317) scale(1,1.12)" font-size="8.2" fill="#EFB64A">Ammonia - R<tspan dy="-5.9" dx="0.3" font-size="7.4">2</tspan><tspan dy="5.9" dx="-0.5"> = 0.99</tspan></text>
<text transform="translate(467.6,334.8) scale(1,1.12)" font-size="8.2" fill="#F2405A">MA - R<tspan dy="-5.9" dx="0.3" font-size="7.4">2</tspan><tspan dy="5.9" dx="-0.5"> = 0.98</tspan></text>
<text transform="translate(467.6,353.1) scale(1,1.12)" font-size="8.2" fill="#7B68E0">DMA - R<tspan dy="-5.9" dx="0.3" font-size="7.4">2</tspan><tspan dy="5.9" dx="-0.5"> = 0.98</tspan></text>
<text transform="translate(467.6,370.9) scale(1,1.12)" font-size="8.2" fill="#2E6A88">TMA - R<tspan dy="-5.9" dx="0.3" font-size="7.4">2</tspan><tspan dy="5.9" dx="-0.5"> = 0.99</tspan></text>
</svg>
</body></html>
